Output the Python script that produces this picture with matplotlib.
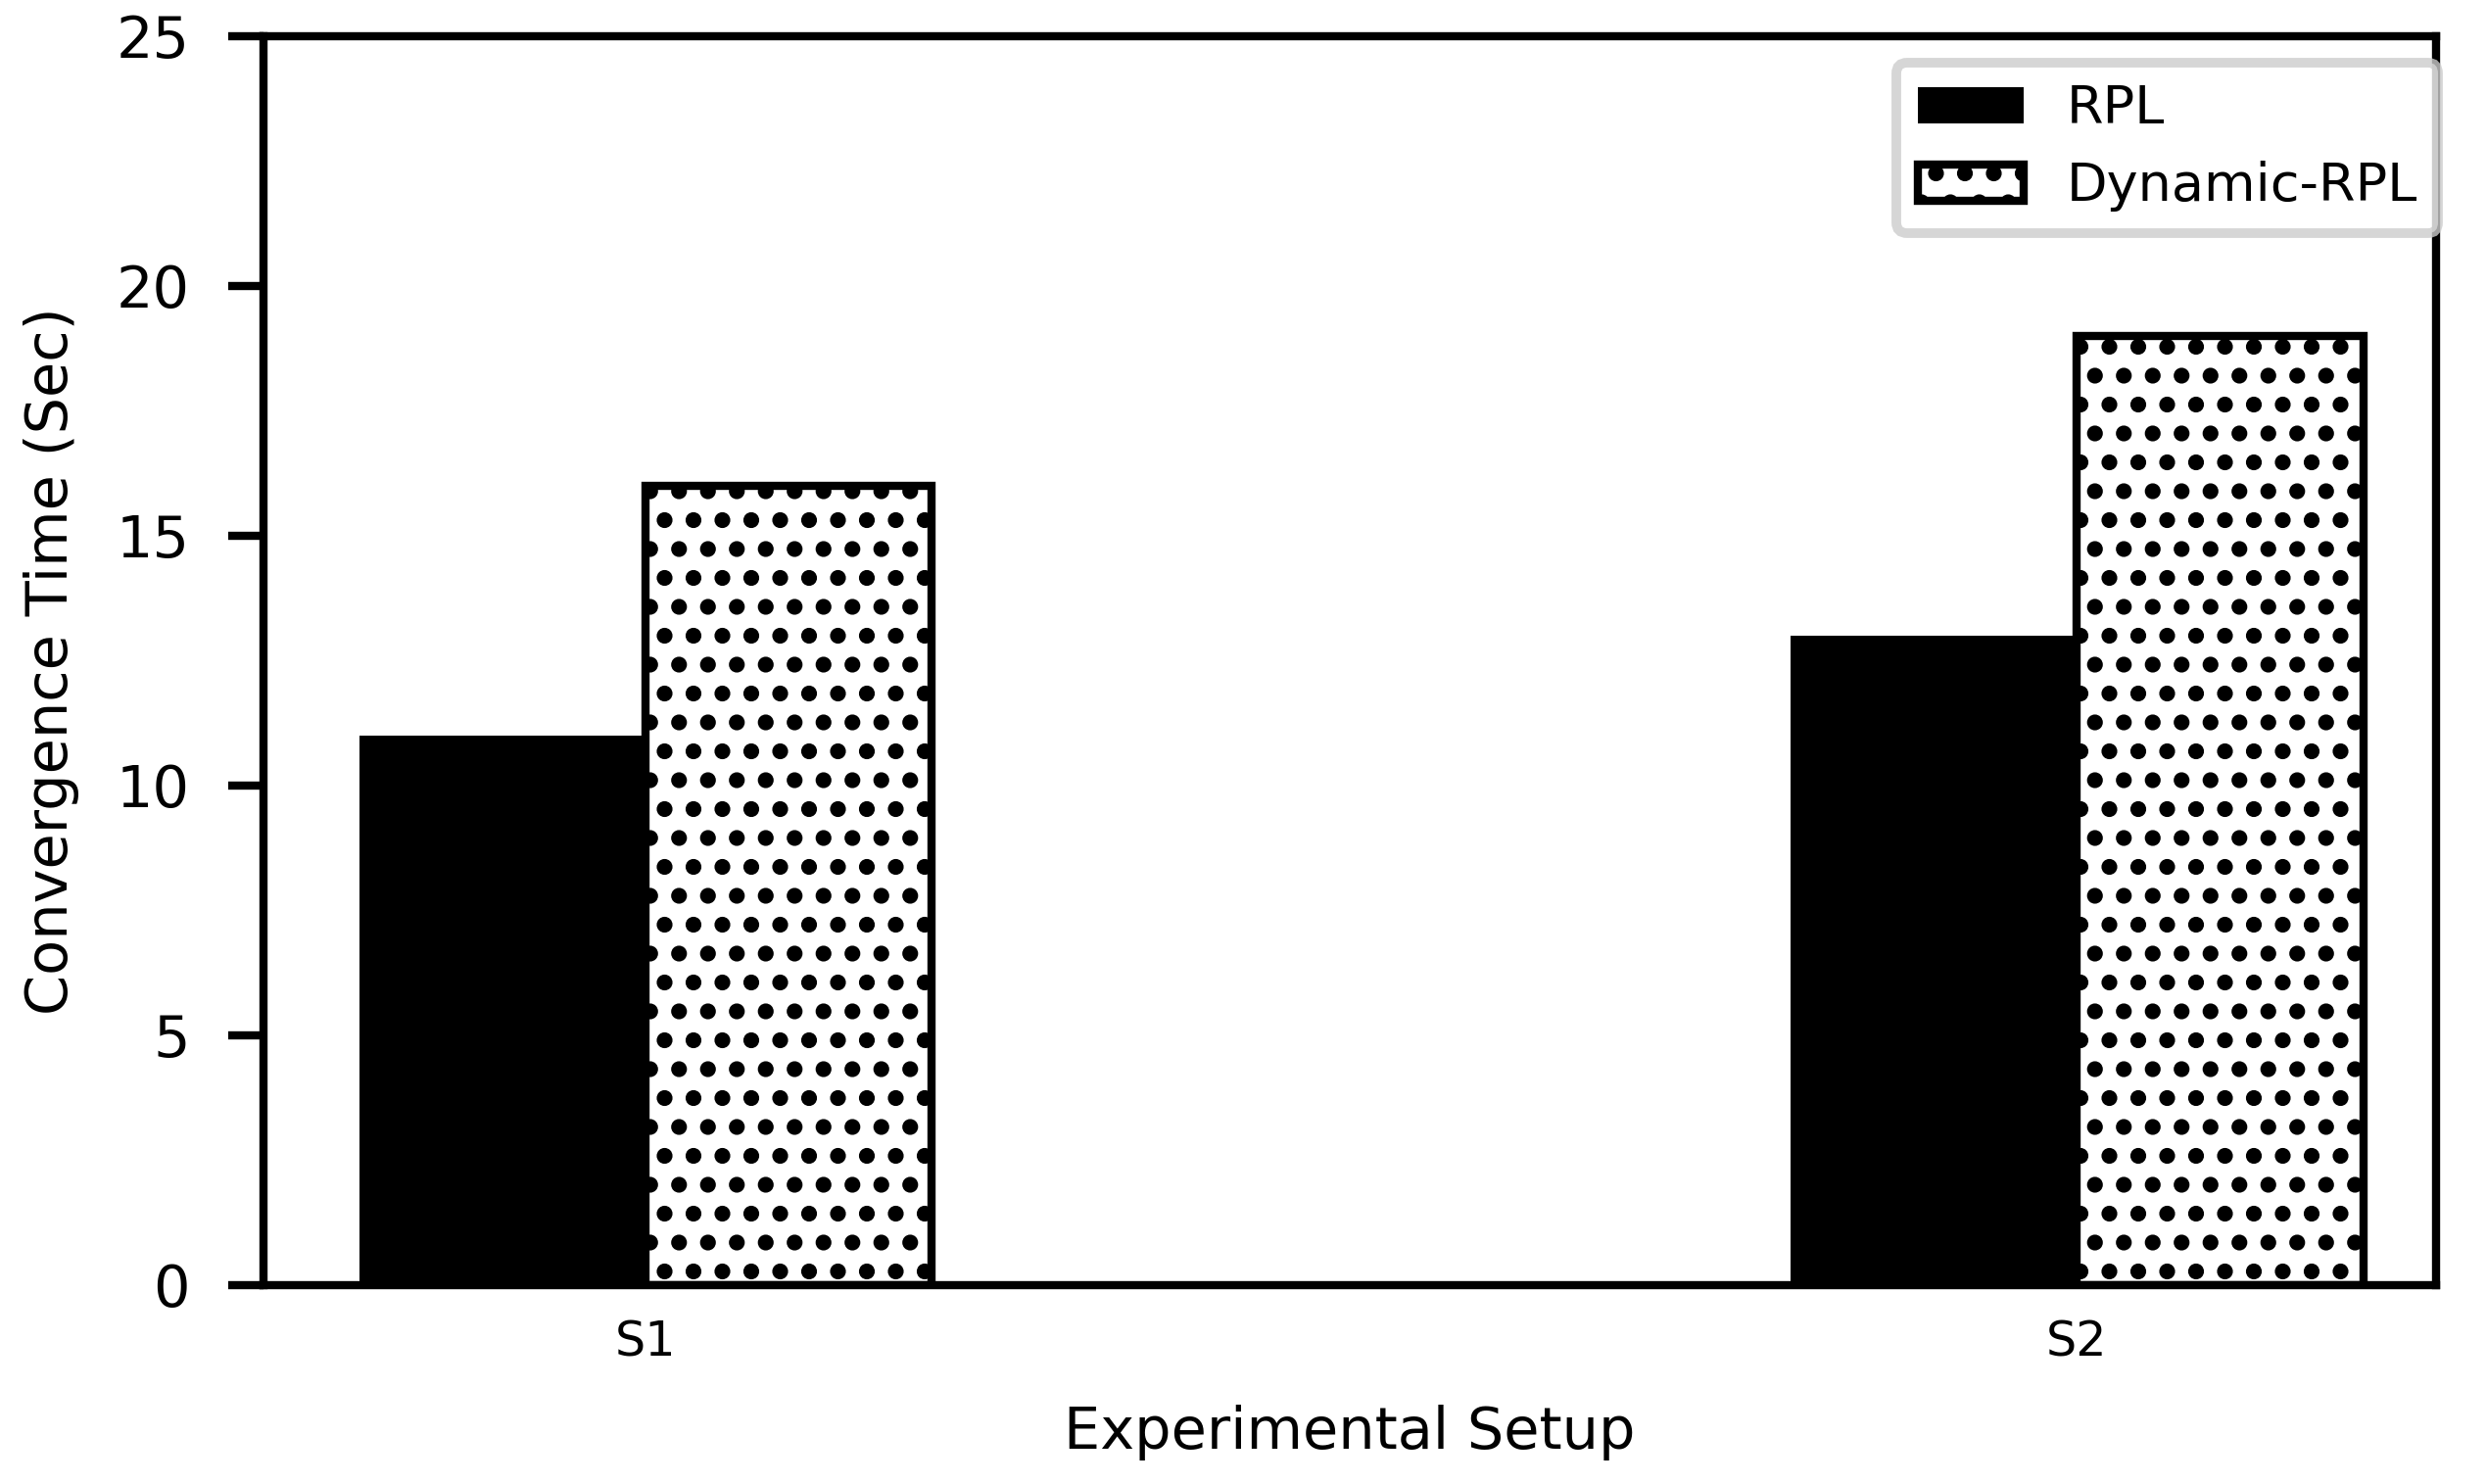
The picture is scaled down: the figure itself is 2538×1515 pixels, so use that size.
import matplotlib
matplotlib.use('Agg')
import matplotlib.pyplot as plt
import matplotlib.hatch as mhatch
import numpy as np

setups = ['S1', 'S2']
rpl = [11, 13]
dynamic_rpl = [16, 19]

plt.rcParams['font.family'] = 'DejaVu Sans'
plt.rcParams['hatch.linewidth'] = 1.0
# bigger filled dots for the '.' hatch
mhatch.SmallFilledCircles.size = 0.19

fig = plt.figure(figsize=(2538 / 354, 1515 / 354), dpi=354)
ax = fig.add_axes([0.106, 0.134, 0.874, 0.8416])

x = np.arange(len(setups))
width = 0.2

ax.bar(x - width / 2, rpl, width, color='black', linewidth=0, label='RPL')
ax.bar(x + width / 2, dynamic_rpl, width, color='white', edgecolor='black',
       linewidth=1.7, hatch='..', label='Dynamic-RPL')

ax.set_xlim(-0.267, 1.251)
ax.set_ylim(0, 25)
ax.set_yticks([0, 5, 10, 15, 20, 25])
ax.set_xticks(x)
ax.set_xticklabels(setups, fontsize=10)

for s in ax.spines.values():
    s.set_linewidth(1.7)

ax.tick_params(axis='y', labelsize=12, length=7.3, width=1.7, pad=8)
ax.tick_params(axis='x', length=0, pad=7)

ax.set_xlabel('Experimental Setup', fontsize=12, labelpad=8)
ax.set_ylabel('Convergence Time (Sec)', fontsize=12, labelpad=7.7)

leg = ax.legend(loc='upper right', bbox_to_anchor=(1.001, 0.979),
                borderaxespad=0, fontsize=11)
leg.get_frame().set_linewidth(2)

fig.savefig('out.png', dpi=354)
